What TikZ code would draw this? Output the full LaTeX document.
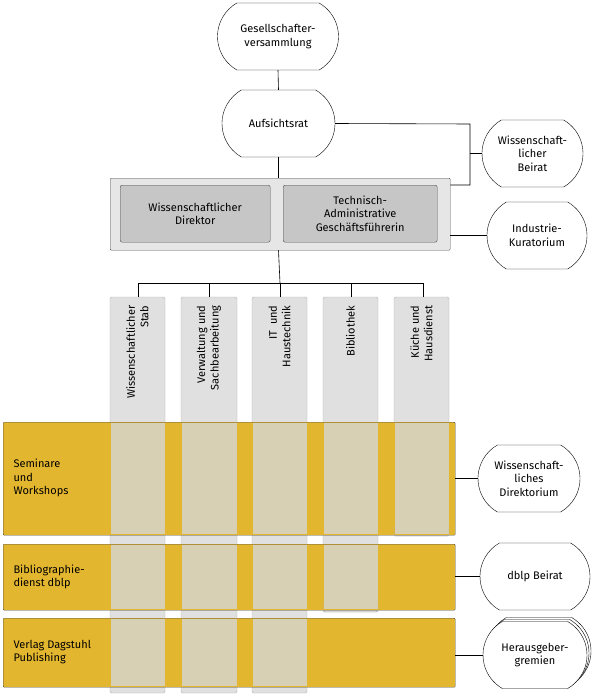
\documentclass[tikz,border=0pt]{standalone}
\usepackage{fontspec}
\setmainfont{Fira Sans}
\usetikzlibrary{shapes.misc}
\definecolor{ybar}{HTML}{E3B630}
\definecolor{colg}{HTML}{E0E0E0}
\definecolor{mixc}{HTML}{D8D0B4}
\definecolor{frameg}{HTML}{E6E6E6}
\definecolor{innerg}{HTML}{C6C6C6}
\tikzset{
  every node/.style={font=\fontsize{11}{13.5}\selectfont},
  pill/.style={draw, fill=white, rounded rectangle, rounded rectangle arc length=120, align=center, inner sep=0pt},
  ln/.style={draw, line width=0.6pt},
  colbox/.style={draw=gray!60, fill=colg, rounded corners=1.5pt},
  bar/.style={draw=black!70, fill=ybar, rounded corners=1pt},
  inner/.style={draw=black!70, fill=innerg, rounded corners=2pt, align=center},
}
\begin{document}
\begin{tikzpicture}[x=1pt,y=-1pt]
\useasboundingbox (0,0) rectangle (600,698);
% columns
\foreach \n/\xa/\xb/\yb in {c1/110/165/693, c2/181/237/693, c3/252/307/693, c4/323/378/612, c5/394/449/536}{
  \path[colbox] (\xa,297) rectangle (\xb,\yb);
}
% bars
\node[bar, minimum width=452, minimum height=113, anchor=north west, inner sep=0] (b1) at (3,422) {};
\node[bar, minimum width=452, minimum height=66, anchor=north west, inner sep=0] (b2) at (3,544) {};
\node[bar, minimum width=452, minimum height=69, anchor=north west, inner sep=0] (b3) at (3,618) {};
% overlaps
\foreach \xa/\xb/\yb in {110/165/693, 181/237/693, 252/307/693, 323/378/612, 394/449/536}{
  \fill[mixc] (\xa+0.5,423) rectangle (\xb-0.5,534);
  \ifnum\yb>540 \fill[mixc] (\xa+0.5,545) rectangle (\xb-0.5,609);\fi
  \ifnum\yb>612 \fill[mixc] (\xa+0.5,619) rectangle (\xb-0.5,686);\fi
}
\foreach \xa/\xb/\yb in {394/449/536, 323/378/612}{
  \draw[gray!60, rounded corners=1.5pt] (\xa,\yb-10) -- (\xa,\yb) -- (\xb,\yb) -- (\xb,\yb-10);
}
\node[anchor=west, align=left] at (10,478) {Seminare\\und\\Workshops};
\node[anchor=west, align=left] at (10,577) {Bibliographie-\\dienst dblp};
\node[anchor=west, align=left] at (10,652) {Verlag Dagstuhl\\Publishing};
% column labels
\node[rotate=90, anchor=east, align=right] (t1) at (137.5,302) {Wissenschaftlicher\\Stab};
\node[rotate=90, anchor=east, align=right] (t2) at (209,302) {Verwaltung und\\Sachbearbeitung};
\node[rotate=90, anchor=east, align=right] (t3) at (279.5,302) {IT\enspace und\\Haustechnik};
\node[rotate=90, anchor=east, align=right] (t4) at (350.5,302) {Bibliothek};
\node[rotate=90, anchor=east, align=right] (t5) at (421.5,302) {Küche und\\Hausdienst};
% top nodes
\node[pill, minimum width=121, minimum height=67] (gv) at (278,36.5) {Gesellschafter-\\versammlung};
\node[pill, minimum width=113, minimum height=67] (ar) at (278.5,123.5) {Aufsichtsrat};
\node[pill, minimum width=101, minimum height=67] (wb) at (532.5,153.5) {Wissenschaft-\\licher\\Beirat};
\node[pill, minimum width=100, minimum height=67] (ik) at (537,235.5) {Industrie-\\Kuratorium};
\node[pill, minimum width=102, minimum height=67] (wd) at (529,478.5) {Wissenschaft-\\liches\\Direktorium};
\node[pill, minimum width=110, minimum height=67] (db) at (535,576.5) {dblp Beirat};
\node[pill, minimum width=104, minimum height=67] (hg2) at (539,651) {};
\node[pill, minimum width=104, minimum height=67] (hg1) at (537,653) {};
\node[pill, minimum width=104, minimum height=67] (hg) at (535,655) {Herausgeber-\\gremien};
% frame
\node[draw=black!70, fill=frameg, rounded corners=1pt, minimum width=340, minimum height=72, anchor=north west, inner sep=0] (fr) at (110,178) {};
\node[inner, minimum width=150, minimum height=57, anchor=north west, inner sep=0] (wdir) at (120,185) {Wissenschaftlicher\\Direktor};
\node[inner, minimum width=154, minimum height=57, anchor=north west, inner sep=0] (tgf) at (283,185) {Technisch-\\Administrative\\Geschäftsführerin};
% connectors
\coordinate (j1) at (470,124);
\coordinate (bus) at (280,283);
\draw[ln] (gv.south) -- (ar.north);
\draw[ln] (ar.south) -- (ar.south |- fr.north);
\draw[ln] (ar.east) -- (j1) |- (fr.north east |- 0,185);
\draw[ln] (j1 |- wb.west) -- (wb.west);
\draw[ln] (fr.east |- ik.west) -- (ik.west);
\draw[ln] (ar.south |- fr.south) -- (bus);
\draw[ln] (138,283) -- (423,283);
\foreach \x in {138,209,280,351,423}{ \draw[ln] (\x,283) -- (\x,297); }
\draw[ln] (b1.east |- wd.west) -- (wd.west);
\draw[ln] (b2.east |- db.west) -- (db.west);
\draw[ln] (b3.east |- hg.west) -- (hg.west);
\end{tikzpicture}
\end{document}
